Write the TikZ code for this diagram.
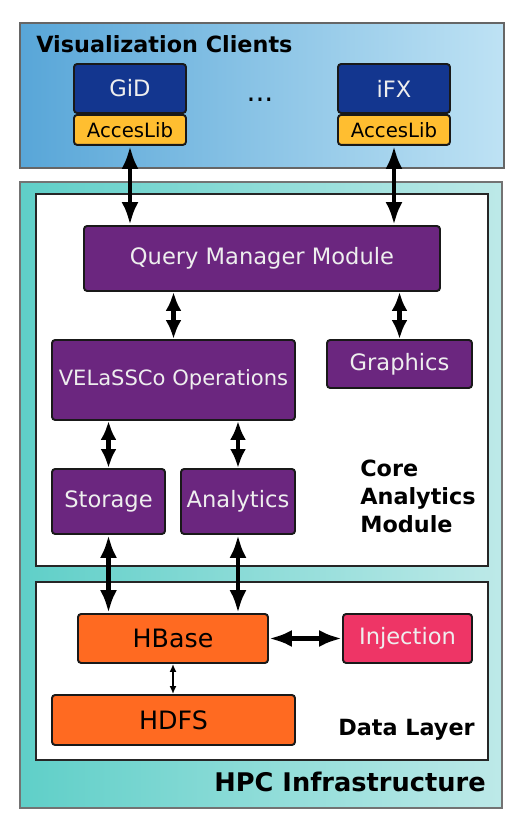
\documentclass[tikz,border=0pt]{standalone}
\usepackage{fontspec}
\setmainfont{DejaVu Sans}
\usepackage{tikz}
\usetikzlibrary{arrows.meta}
\usetikzlibrary{positioning}
\definecolor{visleft}{HTML}{58A6D8}
\definecolor{visright}{HTML}{BEE2F4}
\definecolor{hpcleft}{HTML}{5FCFC8}
\definecolor{hpcright}{HTML}{BDE9E8}
\definecolor{modpurple}{HTML}{6B267F}
\definecolor{clientblue}{HTML}{13368F}
\definecolor{libyellow}{HTML}{FFBE30}
\definecolor{storeorange}{HTML}{FF6A21}
\definecolor{injpink}{HTML}{EE3566}
\definecolor{boxtext}{HTML}{EEEEEE}
\tikzset{
  box/.style={draw=black!90, line width=1.1pt, rounded corners=1.8pt,
    inner sep=0pt, font=\fontsize{12.85}{15}\selectfont},
  module/.style={box, fill=modpurple, text=boxtext},
  client/.style={box, fill=clientblue, text=boxtext},
  acceslib/.style={box, fill=libyellow, text=black,
    font=\fontsize{11.2}{13}\selectfont},
  store/.style={box, fill=storeorange, text=black,
    font=\fontsize{14.4}{16}\selectfont},
  layertitle/.style={inner sep=0pt, font=\bfseries\fontsize{12.7}{15.9}\selectfont},
  bigarrow/.style={line width=2.8pt,
    {Latex[length=0.46cm,width=0.34cm]}-{Latex[length=0.46cm,width=0.34cm]}},
  shortarrow/.style={line width=2.8pt,
    {Latex[length=0.38cm,width=0.32cm]}-{Latex[length=0.38cm,width=0.32cm]}},
  thinarrow/.style={line width=1pt,
    {Latex[length=0.16cm,width=0.14cm]}-{Latex[length=0.16cm,width=0.14cm]}}
}
\begin{document}
\begin{tikzpicture}
    \useasboundingbox (0,0) rectangle (10.54,16.58);

    % Layer: visualization clients
    \draw[draw=black!60, line width=0.8pt, left color=visleft, right color=visright]
        (0.40,13.22) rectangle (10.08,16.12);
    \node[layertitle, anchor=west] (vistitle) at (0.72,15.70) {Visualization Clients};

    % Layer: HPC infrastructure
    \draw[draw=black!55, line width=0.8pt, left color=hpcleft, right color=hpcright]
        (0.40,0.42) rectangle (10.04,12.94);
    \draw[fill=white, draw=black!85, line width=0.6pt] (0.72,5.26) rectangle (9.76,12.70);
    \draw[fill=white, draw=black!85, line width=0.6pt] (0.72,1.38) rectangle (9.76,4.94);

    % Labels: layers
    \node[layertitle, anchor=west, align=left] (coretitle) at (7.20,6.66)
        {Core\\Analytics\\Module};
    \node[layertitle, anchor=east] (datatitle) at (9.50,1.98) {Data Layer};
    \node[layertitle, anchor=east, font=\bfseries\fontsize{14.6}{17}\selectfont]
        (hpctitle) at (9.72,0.94) {HPC Infrastructure};

    % Clients
    \node[client, minimum width=2.24cm, minimum height=0.98cm] (gid) at (2.60,14.81) {GiD};
    \node[acceslib, minimum width=2.24cm, minimum height=0.60cm, below=0pt of gid] (gidlib) {AccesLib};
    \node[client, minimum width=2.24cm, minimum height=0.98cm] (ifx) at (7.88,14.81) {iFX};
    \node[acceslib, minimum width=2.24cm, minimum height=0.60cm, below=0pt of ifx] (ifxlib) {AccesLib};
    \node[font=\fontsize{16}{18}\selectfont] (dots) at (5.20,14.58) {...};

    % Core analytics modules
    \node[module, minimum width=7.12cm, minimum height=1.30cm] (qmm) at (5.24,11.41) {Query Manager Module};
    \node[module, font=\fontsize{12}{14}\selectfont, minimum width=4.86cm, minimum height=1.60cm]
        (velops) at (3.47,8.98) {VELaSSCo Operations};
    \node[module, minimum width=2.90cm, minimum height=0.96cm] (graphics) at (7.99,9.30) {Graphics};
    \node[module, minimum width=2.26cm, minimum height=1.30cm] (storage) at (2.17,6.55) {Storage};
    \node[module, minimum width=2.28cm, minimum height=1.30cm] (analytics) at (4.76,6.55) {Analytics};

    % Data layer
    \node[store, minimum width=3.80cm, minimum height=0.98cm] (hbase) at (3.46,3.81) {HBase};
    \node[box, fill=injpink, text=boxtext, font=\fontsize{12.85}{15}\selectfont,
        minimum width=2.58cm, minimum height=0.98cm] (injection) at (8.15,3.81) {Injection};
    \node[store, minimum width=4.86cm, minimum height=1.00cm] (hdfs) at (3.47,2.18) {HDFS};

    % Arrows: clients to query manager
    \draw[bigarrow] (gidlib.south) -- (gidlib.south |- qmm.north);
    \draw[bigarrow] (ifxlib.south) -- (ifxlib.south |- qmm.north);

    % Arrows: inside core analytics
    \draw[shortarrow] (velops.north |- qmm.south) -- (velops.north);
    \draw[shortarrow] (graphics.north |- qmm.south) -- (graphics.north);
    \draw[shortarrow] (storage.north |- velops.south) -- (storage.north);
    \draw[shortarrow] (analytics.north |- velops.south) -- (analytics.north);

    % Arrows: core analytics to data layer
    \draw[bigarrow] (storage.south) -- (storage.south |- hbase.north);
    \draw[bigarrow] (analytics.south) -- (analytics.south |- hbase.north);
    \draw[bigarrow] (hbase) -- (injection);
    \draw[thinarrow] (hbase.south) -- (hbase.south |- hdfs.north);

\end{tikzpicture}
\end{document}
